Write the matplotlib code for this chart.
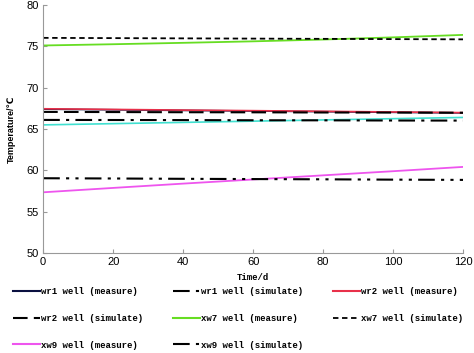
import matplotlib.pyplot as plt
from matplotlib.lines import Line2D

# time (days)
t = [0, 20, 40, 60, 80, 100, 120]

# measured / simulated temperatures (C)
wr1_measure = [67.40, 67.33, 67.25, 67.18, 67.10, 67.02, 66.95]
wr1_simulate = [66.10, 66.09, 66.08, 66.06, 66.05, 66.03, 66.02]
wr2_measure = [67.45, 67.37, 67.29, 67.22, 67.14, 67.06, 66.98]
wr2_simulate = [67.07, 67.05, 67.03, 67.02, 67.00, 66.99, 66.97]
xw7_measure = [75.10, 75.25, 75.42, 75.60, 75.82, 76.08, 76.38]
xw7_simulate = [76.02, 75.99, 75.96, 75.93, 75.90, 75.87, 75.84]
xw9_measure = [57.35, 57.88, 58.40, 58.90, 59.40, 59.90, 60.42]
xw9_simulate = [59.05, 59.02, 58.98, 58.95, 58.92, 58.88, 58.85]
cyan_line = [65.50, 65.65, 65.80, 65.95, 66.10, 66.25, 66.40]

plt.rcParams['font.family'] = ['Liberation Sans', 'DejaVu Sans']

fig = plt.figure(figsize=(4.74, 3.53), dpi=100)
ax = fig.add_axes([0.091, 0.283, 0.886, 0.703])

ax.plot(t, cyan_line, color='#40e0d0', lw=1.2)
ax.plot(t, wr1_measure, color='#0a1040', lw=1.2)
ax.plot(t, wr2_measure, color='#e8304a', lw=1.2)
ax.plot(t, wr1_simulate, color='black', lw=1.5, dashes=(8, 3, 1.5, 3))
ax.plot(t, wr2_simulate, color='black', lw=1.5, dashes=(7, 3))
ax.plot(t, xw7_measure, color='#66dd22', lw=1.3)
ax.plot(t, xw7_simulate, color='black', lw=1.3, dashes=(3, 2))
ax.plot(t, xw9_measure, color='#ee55ee', lw=1.3)
ax.plot(t, xw9_simulate, color='black', lw=1.5, dashes=(8, 3, 1.5, 3, 1.5, 3))

ax.set_xlim(0, 120)
ax.set_ylim(50, 80)
ax.set_xticks([0, 20, 40, 60, 80, 100, 120])
ax.set_yticks([50, 55, 60, 65, 70, 75, 80])
ax.spines['top'].set_visible(False)
ax.spines['right'].set_visible(False)
for s in ['left', 'bottom']:
    ax.spines[s].set_color('#999999')
ax.tick_params(direction='in', length=3, color='#999999', labelsize=8, pad=3)

ax.set_xlabel('Time/d', family='Liberation Mono', fontsize=6.5, fontweight='bold', labelpad=4)
ax.set_ylabel('Temperature/\u2103', family=['Liberation Sans', 'DejaVu Sans'],
              fontsize=6.5, fontweight='bold', labelpad=8)

# legend in row order as in the figure
handles = [
    Line2D([], [], color='#0a1040', lw=1.5),
    Line2D([], [], color='black', lw=1.5, dashes=(8, 3, 1.5, 3)),
    Line2D([], [], color='#e8304a', lw=1.5),
    Line2D([], [], color='black', lw=1.5, dashes=(7, 3)),
    Line2D([], [], color='#66dd22', lw=1.5),
    Line2D([], [], color='black', lw=1.3, dashes=(3, 2)),
    Line2D([], [], color='#ee55ee', lw=1.5),
    Line2D([], [], color='black', lw=1.5, dashes=(8, 3, 1.5, 3, 1.5, 3)),
]
labels = ['wr1 well (measure)', 'wr1 well (simulate)', 'wr2 well (measure)',
          'wr2 well (simulate)', 'xw7 well (measure)', 'xw7 well (simulate)',
          'xw9 well (measure)', 'xw9 well (simulate)']
order = [0, 3, 6, 1, 4, 7, 2, 5]
fig.legend([handles[i] for i in order], [labels[i] for i in order],
           loc='upper left', bbox_to_anchor=(0.027, 0.186), ncol=3, frameon=False,
           prop={'family': 'Liberation Mono', 'size': 6.5, 'weight': 'bold'},
           handlelength=3.0, handletextpad=0.1, columnspacing=3.3, labelspacing=1.95,
           borderaxespad=0, borderpad=0)

fig.savefig('out.png', dpi=100)
